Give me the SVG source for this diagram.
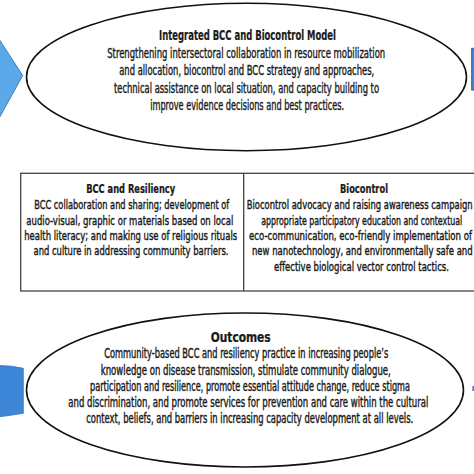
<svg xmlns="http://www.w3.org/2000/svg" width="474" height="474" viewBox="0 0 474 474">
<style>
  .oval { fill: #ffffff; stroke: #111111; stroke-width: 1.6; }
  .cell { fill: #ffffff; stroke: #444444; stroke-width: 1.3; }
  .t { font-family: "Liberation Sans Narrow", "DejaVu Sans Condensed", "Liberation Sans", sans-serif; fill: #1a1a1a; stroke: #1a1a1a; stroke-width: 0.25; text-anchor: middle; }
  .b { font-weight: bold; stroke-width: 0.15; }
  .s { text-anchor: start; }
  .f1 { font-size: 9.06px; }
  .f2 { font-size: 8.125px; }
  .f3 { font-size: 8.44px; }
</style>
<rect x="0" y="0" width="474" height="474" fill="#ffffff"/>

<g id="connectors">
  <polygon points="-3,36 22.7,75.5 -3,122" fill="#5ba9e8" stroke="#3f7fc2" stroke-width="1"/>
  <rect x="471.7" y="48.3" width="5" height="41.7" fill="#4a82cf" stroke="#2f5f9f" stroke-width="1"/>
  <path d="M-3,365.5 Q11,365.3 23.3,368.3 L23.3,413.3 Q11,415.5 -3,417 Z" fill="#3d85d6" stroke="#3573bb" stroke-width="0.8"/>
  <rect x="472.3" y="386" width="2" height="5" fill="#4a86d0"/>
</g>

<g id="node-integrated-model">
  <ellipse class="oval" cx="246.5" cy="77" rx="220" ry="73.7"/>
  <g transform="scale(1,1.6)">
    <text class="t b f1" x="247.5" y="25.31" textLength="177" lengthAdjust="spacingAndGlyphs">Integrated BCC and Biocontrol Model</text>
    <text class="t f1" x="246.2" y="36.56" textLength="278" lengthAdjust="spacingAndGlyphs">Strengthening intersectoral collaboration in resource mobilization</text>
    <text class="t f1" x="246.7" y="47.19" textLength="255" lengthAdjust="spacingAndGlyphs">and allocation, biocontrol and BCC strategy and approaches,</text>
    <text class="t f1" x="246.5" y="58" textLength="265" lengthAdjust="spacingAndGlyphs">technical assistance on local situation, and capacity building to</text>
    <text class="t f1" x="247.2" y="68.94" textLength="194" lengthAdjust="spacingAndGlyphs">improve evidence decisions and best practices.</text>
  </g>
</g>

<g id="node-table">
  <rect class="cell" x="20.7" y="173.3" width="470" height="117.7"/>
  <line x1="243.7" y1="173.3" x2="243.7" y2="291" stroke="#444444" stroke-width="1.3"/>
</g>

<g id="node-bcc-resiliency">
  <g transform="scale(1,1.6)">
    <text class="t b f2" x="130.7" y="120.94" textLength="89" lengthAdjust="spacingAndGlyphs">BCC and Resiliency</text>
    <text class="t f2" x="131.7" y="130.94" textLength="195" lengthAdjust="spacingAndGlyphs">BCC collaboration and sharing; development of</text>
    <text class="t f2" x="129.8" y="140.5" textLength="207" lengthAdjust="spacingAndGlyphs">audio-visual, graphic or materials based on local</text>
    <text class="t f2" x="130.7" y="150.13" textLength="213" lengthAdjust="spacingAndGlyphs">health literacy; and making use of religious rituals</text>
    <text class="t f2" x="131" y="159.69" textLength="195" lengthAdjust="spacingAndGlyphs">and culture in addressing community barriers.</text>
  </g>
</g>

<g id="node-biocontrol">
  <g transform="scale(1,1.6)">
    <text class="t b f2" x="364" y="120.94" textLength="48" lengthAdjust="spacingAndGlyphs">Biocontrol</text>
    <text class="t s f2" x="246.7" y="130.94" textLength="226" lengthAdjust="spacingAndGlyphs">Biocontrol advocacy and raising awareness campaign</text>
    <text class="t f2" x="361.7" y="140.5" textLength="201" lengthAdjust="spacingAndGlyphs">appropriate participatory education and contextual</text>
    <text class="t s f2" x="249" y="150.13" textLength="223" lengthAdjust="spacingAndGlyphs">eco-communication, eco-friendly implementation of</text>
    <text class="t f2" x="362.3" y="159.69" textLength="220.7" lengthAdjust="spacingAndGlyphs">new nanotechnology, and environmentally safe and</text>
    <text class="t f2" x="361.5" y="169.13" textLength="175" lengthAdjust="spacingAndGlyphs">effective biological vector control tactics.</text>
  </g>
</g>

<g id="node-outcomes">
  <ellipse class="oval" cx="245" cy="390" rx="218.5" ry="77"/>
  <g transform="scale(1,1.6)">
    <text class="t b f3" x="240.7" y="213.75" textLength="60" lengthAdjust="spacingAndGlyphs">Outcomes</text>
    <text class="t f3" x="246.2" y="224.06" textLength="284" lengthAdjust="spacingAndGlyphs">Community-based BCC and resiliency practice in increasing people’s</text>
    <text class="t f3" x="245.8" y="234.25" textLength="290" lengthAdjust="spacingAndGlyphs">knowledge on disease transmission, stimulate community dialogue,</text>
    <text class="t f3" x="250" y="244.38" textLength="320" lengthAdjust="spacingAndGlyphs">participation and resilience, promote essential attitude change, reduce stigma</text>
    <text class="t f3" x="248.3" y="254.38" textLength="360" lengthAdjust="spacingAndGlyphs">and discrimination, and promote services for prevention and care within the cultural</text>
    <text class="t f3" x="249.7" y="264.25" textLength="327" lengthAdjust="spacingAndGlyphs">context, beliefs, and barriers in increasing capacity development at all levels.</text>
  </g>
</g>
</svg>
